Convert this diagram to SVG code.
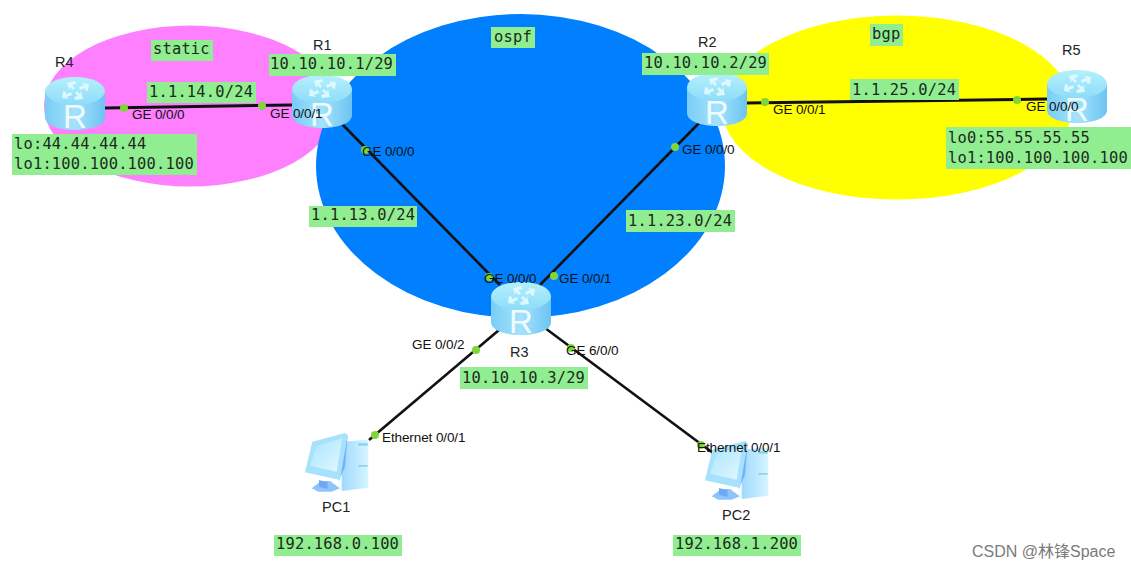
<svg xmlns="http://www.w3.org/2000/svg" xmlns:xlink="http://www.w3.org/1999/xlink" width="1131" height="569" viewBox="0 0 1131 569">
<style>
.box{fill:#90ee90}
.mono{font-family:"DejaVu Sans Mono","Liberation Mono",monospace;font-size:15.4px;letter-spacing:.2px;fill:#1c2a1c}
.lbl{font-family:"Liberation Sans",Arial,sans-serif;font-size:13.5px;letter-spacing:-.1px;fill:#111}
.name{font-family:"Liberation Sans",Arial,sans-serif;font-size:14.5px;fill:#222}
.link{stroke:#111;stroke-width:2.6;fill:none}
.thick{stroke-width:3}
.dot{fill:#7fd63a}
.rt{font-family:"Liberation Sans",Arial,sans-serif;font-size:33px;fill:#eefcff}
</style>
<defs>
<linearGradient id="body" x1="0" x2="1" y1="0" y2="0"><stop offset="0" stop-color="#79cdf6"/><stop offset=".5" stop-color="#a5e2fb"/><stop offset="1" stop-color="#6cc4f3"/></linearGradient>
<linearGradient id="top" x1="0" x2="0" y1="0" y2="1"><stop offset="0" stop-color="#b4f0fd"/><stop offset="1" stop-color="#8fdcf8"/></linearGradient>
<linearGradient id="scr" x1="0" x2="1" y1="0" y2="1"><stop offset="0" stop-color="#a8e4ff"/><stop offset="1" stop-color="#e4f8ff"/></linearGradient>
<linearGradient id="twr" x1="0" x2="1" y1="0" y2="0"><stop offset="0" stop-color="#9fd8ff"/><stop offset="1" stop-color="#d6f6ff"/></linearGradient>
<g id="router">
<path d="M0 14V40C0 48 13 53 30 53S60 48 60 40V14Z" fill="url(#body)"/>
<ellipse cx="30" cy="14" rx="30" ry="14" fill="url(#top)"/>
<path d="M22 6l8-2 1 3-4 1 3 3-2 2-3-3-1 3zM44 7l-1 7-3-1 0-2-5 2-1-3 5-2-2-2zM17 21l1-7 3 1 0 2 5-2 1 3-5 2 2 2zM38 22l-8 1-1-3 4-1-3-3 2-2 3 3 1-3z" fill="#e6fbff" opacity=".85"/>
<text class="rt" x="30" y="51" text-anchor="middle">R</text>
</g>
<g id="pc">
<path d="M50 190L78 168H105L135 190L110 200H70Z" fill="#8fc4fb"/>
<path d="M72 165L98 172V192L72 185Z" fill="#6fa8f5"/>
<path d="M140 50L220 44V188L140 198Z" fill="url(#twr)"/>
<path d="M145 48L158 30L150 125L130 170Z" fill="#78aef8"/>
<path d="M190 55H218V62H190ZM190 120H218V125H190Z" fill="#8fd0ee"/>
<path d="M52 50L150 24L158 30L135 165L30 142Z" fill="#a6e2fb"/>
<path d="M65 62L142 40L125 140L45 122Z" fill="url(#scr)"/>
</g>
</defs>
<rect width="1131" height="569" fill="#fff"/>
<g id="areas">
<ellipse cx="190" cy="106" rx="146" ry="80.500" fill="#ff80ff"/>
<ellipse cx="897" cy="107.500" rx="175" ry="92" fill="#ffff00"/>
<ellipse cx="520.500" cy="166" rx="204.500" ry="152" fill="#0080ff"/>
</g>
<g id="connectors">
<path class="link thick" d="M105 108L292 105"/>
<path class="link thick" d="M747 103L1047 99"/>
<path class="link" d="M342 124L500 285"/>
<path class="link" d="M700 122L535 290"/>
<path class="link" d="M499 330L369 440"/>
<path class="link" d="M545 328L713 453"/>
</g>
<g id="node-R4"><use xlink:href="#router" x="45" y="77"/><text class="name" x="55" y="67">R4</text></g>
<g id="node-R1"><use xlink:href="#router" x="292" y="75"/><text class="name" x="313" y="50">R1</text></g>
<g id="node-R2"><use xlink:href="#router" x="687" y="73"/><text class="name" x="698" y="47">R2</text></g>
<g id="node-R5"><use xlink:href="#router" x="1047" y="70"/><text class="name" x="1062" y="55">R5</text></g>
<g id="node-R3"><use xlink:href="#router" x="491" y="282"/><text class="name" x="510" y="357">R3</text></g>
<g id="node-PC1"><use xlink:href="#pc" transform="translate(295 425) scale(.3333)"/><text class="name" x="322" y="512">PC1</text></g>
<g id="node-PC2"><use xlink:href="#pc" transform="translate(695 433) scale(.3333)"/><text class="name" x="722" y="520">PC2</text></g>
<g id="dots">
<circle class="dot" cx="124" cy="108" r="4"/><circle class="dot" cx="262" cy="106" r="4"/>
<circle class="dot" cx="765" cy="102" r="4"/><circle class="dot" cx="1017" cy="100" r="4"/>
<circle class="dot" cx="365" cy="150" r="4"/><circle class="dot" cx="675" cy="147" r="4"/>
<circle class="dot" cx="489" cy="277" r="4"/><circle class="dot" cx="554" cy="276" r="4"/>
<circle class="dot" cx="476" cy="350" r="4"/><circle class="dot" cx="571" cy="348" r="4"/>
<circle class="dot" cx="375" cy="435" r="4"/><circle class="dot" cx="701" cy="445" r="4"/>
</g>
<g id="ports">
<text class="lbl" x="132" y="119">GE 0/0/0</text>
<text class="lbl" x="270" y="118">GE 0/0/1</text>
<text class="lbl" x="362" y="156">GE 0/0/0</text>
<text class="lbl" x="682" y="154">GE 0/0/0</text>
<text class="lbl" x="773" y="114">GE 0/0/1</text>
<text class="lbl" x="1026" y="111">GE 0/0/0</text>
<text class="lbl" x="484" y="283">GE 0/0/0</text>
<text class="lbl" x="559" y="283">GE 0/0/1</text>
<text class="lbl" x="412" y="349">GE 0/0/2</text>
<text class="lbl" x="566" y="355">GE 6/0/0</text>
<text class="lbl" x="382" y="442">Ethernet 0/0/1</text>
<text class="lbl" x="697" y="452">Ethernet 0/0/1</text>
</g>
<g id="notes">
<rect class="box" x="151" y="40" width="62" height="21"/><text class="mono" x="153" y="54">static</text>
<rect class="box" x="491" y="27" width="44" height="21"/><text class="mono" x="494" y="42">ospf</text>
<rect class="box" x="870" y="24" width="33" height="22"/><text class="mono" x="872" y="39">bgp</text>
<rect class="box" x="147" y="82" width="109" height="21"/><text class="mono" x="149" y="97">1.1.14.0/24</text>
<rect class="box" x="850" y="79" width="109" height="21"/><text class="mono" x="852" y="95">1.1.25.0/24</text>
<rect class="box" x="269" y="54" width="127" height="22"/><text class="mono" x="270" y="69">10.10.10.1/29</text>
<rect class="box" x="642" y="53" width="127" height="22"/><text class="mono" x="644" y="68">10.10.10.2/29</text>
<rect class="box" x="12" y="134" width="185" height="41"/><text class="mono" x="14" y="149">lo:44.44.44.44</text><text class="mono" x="14" y="169">lo1:100.100.100.100</text>
<rect class="box" x="946" y="127" width="185" height="42"/><text class="mono" x="948" y="143">lo0:55.55.55.55</text><text class="mono" x="948" y="163">lo1:100.100.100.100</text>
<rect class="box" x="309" y="206" width="108" height="21"/><text class="mono" x="311" y="220">1.1.13.0/24</text>
<rect class="box" x="626" y="210" width="109" height="22"/><text class="mono" x="628" y="226">1.1.23.0/24</text>
<rect class="box" x="460" y="367" width="128" height="22"/><text class="mono" x="462" y="383">10.10.10.3/29</text>
<rect class="box" x="274" y="535" width="128" height="21"/><text class="mono" x="276" y="549">192.168.0.100</text>
<rect class="box" x="673" y="535" width="128" height="21"/><text class="mono" x="675" y="549">192.168.1.200</text>
</g>
<text x="972" y="557" font-family="'Liberation Sans','Noto Sans CJK SC',sans-serif" font-size="16" fill="#7a7a7a">CSDN @林锋Space</text>
</svg>
